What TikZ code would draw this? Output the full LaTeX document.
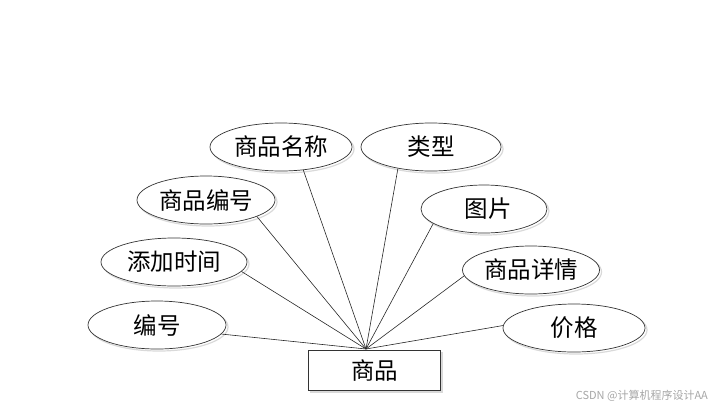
\documentclass[tikz,border=0pt]{standalone}
\usepackage{fontspec}
\newfontfamily\cjk{Noto Sans CJK SC}
\usetikzlibrary{shapes.geometric}
\tikzset{
  attr/.style={ellipse, draw=black!80, line width=0.7pt, fill=white, minimum width=140pt, minimum height=48pt, inner sep=0pt, font=\cjk\fontsize{23.5}{26}\selectfont},
  attrsh/.style={ellipse, draw=black!15, line width=1.2pt, minimum width=140pt, minimum height=48pt, inner sep=0pt},
  ent/.style={rectangle, draw=black!80, line width=0.7pt, fill=white, minimum width=132pt, minimum height=40pt, inner sep=0pt, font=\cjk\fontsize{23.5}{26}\selectfont},
  conn/.style={draw=black!85, line width=0.6pt}
}
\begin{document}
\begin{tikzpicture}[x=1pt,y=-1pt]
\useasboundingbox (0,0) rectangle (720,410);
% shadows
\foreach \x/\y/\w in {281/147/142, 431/147/140, 206/200/138, 484/209/126, 174/262/146, 531/270/137, 157/325/138, 574/328/142}{
  \node[attrsh, minimum width=\w pt] at (\x+2,\y+2) {};
}
\draw[black!15, line width=1.2pt] (311,353) rectangle (442,392);
% hub
\coordinate (hub) at (366,349);
% nodes
\node[attr, minimum width=142pt] (mc) at (281,147) {商品名称};
\node[attr] (lx) at (431,147) {类型};
\node[attr, minimum width=138pt] (bh1) at (206,200) {商品编号};
\node[attr, minimum width=126pt] (tp) at (484,209) {\hspace{8pt}图片};
\node[attr, minimum width=146pt] (sj) at (174,262) {添加时间};
\node[attr, minimum width=137pt] (xq) at (531,270) {商品详情};
\node[attr, minimum width=138pt] (bh) at (157,325) {编号};
\node[attr, minimum width=142pt] (jg) at (574,328) {价格};
\node[ent] (sp) at (374.5,370.5) {商品};
% connectors
\foreach \n/\a in {mc/314, lx/213, bh1/342, tp/196, sj/352, xq/185, bh/352, jg/178}{
  \draw[conn] (\n.\a) -- (hub);
}
% watermark
\node[font=\cjk\fontsize{11}{12}\selectfont, text=black!35, anchor=east, inner sep=0pt] (wm) at (708,396) {CSDN @计算机程序设计AA};
\end{tikzpicture}
\end{document}
